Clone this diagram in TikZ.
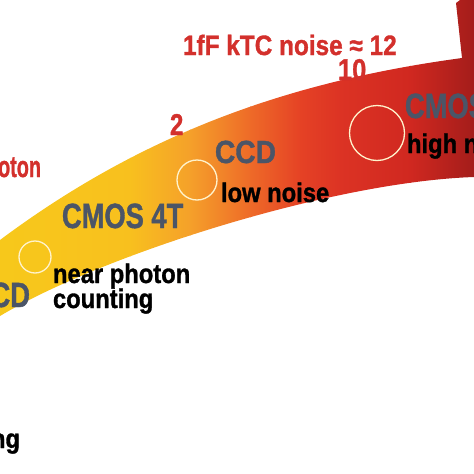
\documentclass[tikz,border=0pt]{standalone}
\usepackage{fontspec}
\setmainfont{Liberation Sans}[BoldFeatures={FakeBold=1.3}]
\definecolor{txtred}{HTML}{D3302C}
\definecolor{txtgrey}{HTML}{4B5567}
\definecolor{ringcol}{HTML}{FFF3CC}
\definecolor{c0}{HTML}{F7CB1A}
\definecolor{c1}{HTML}{F8C01E}
\definecolor{c2}{HTML}{F5A02A}
\definecolor{c3}{HTML}{EE6A28}
\definecolor{c4}{HTML}{E54225}
\definecolor{c5}{HTML}{DC3324}
\definecolor{c6}{HTML}{D02820}
\definecolor{c7}{HTML}{A01C1A}
\newcommand{\fs}[1]{\fontsize{#1}{#1}\selectfont\bfseries}
\newcommand{\hs}[2]{\scalebox{#1}[1]{#2}}
\begin{document}
\begin{tikzpicture}[x=1pt,y=-1pt,
  lbl/.style={inner sep=0pt, outer sep=0pt},
  ring/.style={draw=ringcol, line width=1.3pt, circle, minimum size=#1, inner sep=0pt}]
\useasboundingbox (0,0) rectangle (474,474);
\clip (0,0) rectangle (474,474);
% band
\begin{scope}
\clip (-40,268) -- (0,240) .. controls (150,128) and (300,80) .. (462,58)
  -- (456,3) -- (500,-30) -- (600,100) -- (520,176) -- (474,177)
  .. controls (330,182) and (100,256) .. (0,316) -- (-40,345) -- cycle;
\shade[left color=c0, right color=c1] (-41,-40) rectangle (131,400);
\shade[left color=c1, right color=c2] (130,-40) rectangle (191,400);
\shade[left color=c2, right color=c3] (190,-40) rectangle (251,400);
\shade[left color=c3, right color=c4] (250,-40) rectangle (301,400);
\shade[left color=c4, right color=c5] (300,-40) rectangle (341,400);
\shade[left color=c5, right color=c6] (340,-40) rectangle (411,400);
\shade[left color=c6, right color=c7] (410,-40) rectangle (480,400);
\fill[c7] (479,-40) rectangle (620,400);
\end{scope}
% circles
\node[ring=55pt] (r3) at (377,133) {};
\node[ring=40pt] (r2) at (197,180) {};
\node[ring=32pt] (r1) at (35,257) {};
% texts
\node[lbl, anchor=base west, text=txtred] (title) at (183,55) {\fs{28}\hs{0.87}{1fF kTC noise ≈ 12}};
\node[lbl, anchor=base west, text=txtred] (ten) at (338,80) {\fs{30}\hs{0.85}{10}};
\node[lbl, anchor=base west, text=txtred] (two) at (170,135) {\fs{30}\hs{0.8}{2}};
\node[lbl, anchor=base east, text=txtred] (photon) at (41,177) {\fs{30}\hs{0.66}{photon}};
\node[lbl, anchor=base west, text=txtgrey] (ccdm) at (215,163) {\fs{32}\hs{0.88}{CCD}};
\node[lbl, anchor=base west, text=txtgrey] (cmos4) at (62,228) {\fs{35}\hs{0.78}{CMOS 4T}};
\node[lbl, anchor=base east, text=txtgrey] (ccdl) at (30,307) {\fs{35}\hs{0.78}{CCD}};
\node[lbl, anchor=base west, text=txtgrey] (cmos3) at (405,118) {\fs{35}\hs{0.78}{CMOS 3T}};
\node[lbl, anchor=base west, text=black] (low) at (221,202) {\fs{27}\hs{0.88}{low noise}};
\node[lbl, anchor=base west, text=black] (high) at (407,153) {\fs{27}\hs{0.88}{high noise}};
\node[lbl, anchor=base west, text=black] (near) at (53,283) {\fs{27}\hs{0.88}{near photon}};
\node[lbl, anchor=base west, text=black] (count) at (53,308) {\fs{27}\hs{0.88}{counting}};
\node[lbl, anchor=base east, text=black] (ng) at (20,448) {\fs{27}\hs{0.88}{counting}};
\end{tikzpicture}
\end{document}
